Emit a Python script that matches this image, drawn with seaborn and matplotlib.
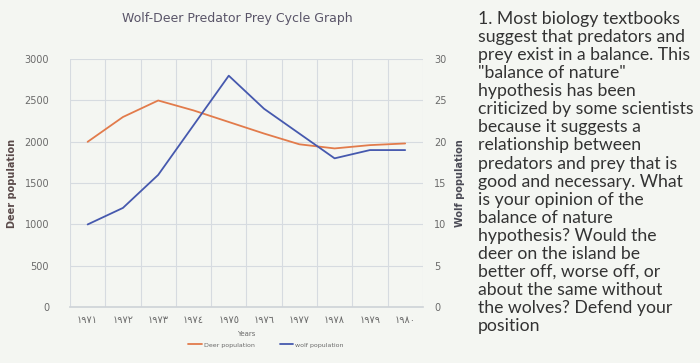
import pandas as pd
import numpy as np
import matplotlib.pyplot as plt
import seaborn as sns

sns.set_theme(style="white")
plt.rcParams['font.family'] = ['DejaVu Sans']

# data
years = ["١٩٧١", "١٩٧٢", "١٩٧٣", "١٩٧٤", "١٩٧٥", "١٩٧٦", "١٩٧٧", "١٩٧٨", "١٩٧٩", "١٩٨٠"]
deer = [2000, 2300, 2500, 2380, 2240, 2100, 1970, 1920, 1960, 1980]
wolves = [10, 12, 16, 22, 28, 24, 21, 18, 19, 19]

df = pd.DataFrame({"year": years, "pos": np.arange(len(years)), "deer": deer, "wolves": wolves})

deer_color = "#E27B4B"
wolf_color = "#4659AE"
tick_gray = "#6a6a6a"
bg = "#f4f6f2"

fig = plt.figure(figsize=(7, 3.63), dpi=100, facecolor=bg)
ax = fig.add_axes([0.1, 0.154, 0.504, 0.683])
ax.set_facecolor("none")

sns.lineplot(data=df, x="pos", y="deer", color=deer_color, lw=1.3, ax=ax, label="Deer population", legend=False)
ax2 = ax.twinx()
sns.lineplot(data=df, x="pos", y="wolves", color=wolf_color, lw=1.3, ax=ax2, label="wolf population", legend=False)

ax.set_xlim(-0.5, len(years) - 0.5)
ax.set_ylim(0, 3000)
ax2.set_ylim(0, 30)
ax.set_yticks(np.arange(0, 3001, 500))
ax2.set_yticks(np.arange(0, 31, 5))
ax.set_xticks(df["pos"])
ax.set_xticklabels(years)
ax.set_xticks(np.arange(-0.5, len(years), 1), minor=True)

ax.grid(True, which="major", axis="y", color="#d6dbe0", lw=0.8)
ax.grid(True, which="minor", axis="x", color="#d6dbe0", lw=0.8)
ax.tick_params(axis="both", which="both", length=0, colors=tick_gray, labelsize=7)
ax.tick_params(axis="x", labelsize=7, pad=6)
ax2.tick_params(axis="y", length=0, colors=tick_gray, labelsize=7, pad=8)
ax.tick_params(axis="y", pad=15)
for a in (ax, ax2):
    for s in a.spines.values():
        s.set_visible(False)
ax.spines["bottom"].set_visible(True)
ax.spines["bottom"].set_color("#cfd4d8")

ax.set_xlabel("Years", fontsize=5, color=tick_gray, labelpad=4)
ax.set_ylabel("Deer population", fontsize=7, color="#5a4a4a", fontweight="bold", labelpad=5)
ax2.set_ylabel("Wolf population", fontsize=7, color="#4a4a55", fontweight="bold", labelpad=6)

fig.text(0.339, 0.948, "Wolf-Deer Predator Prey Cycle Graph", ha="center", va="center",
         fontsize=9, color="#595468")

h1, l1 = ax.get_legend_handles_labels()
h2, l2 = ax2.get_legend_handles_labels()
fig.legend(h1 + h2, l1 + l2, loc="center", bbox_to_anchor=(0.38, 0.05), ncol=2,
           frameon=False, fontsize=4.5, labelcolor=tick_gray, handlelength=2.2,
           handletextpad=0.3, columnspacing=4)

question = ('1. Most biology textbooks\n'
            'suggest that predators and\n'
            'prey exist in a balance. This\n'
            '"balance of nature"\n'
            'hypothesis has been\n'
            'criticized by some scientists\n'
            'because it suggests a\n'
            'relationship between\n'
            'predators and prey that is\n'
            'good and necessary. What\n'
            'is your opinion of the\n'
            'balance of nature\n'
            'hypothesis? Would the\n'
            'deer on the island be\n'
            'better off, worse off, or\n'
            'about the same without\n'
            'the wolves? Defend your\n'
            'position')
fig.text(0.683, 0.97, question, ha="left", va="top", fontsize=12.7, color="#333333",
         family="Lato", linespacing=1.16)

plt.savefig("out.png", dpi=100, facecolor=bg)
